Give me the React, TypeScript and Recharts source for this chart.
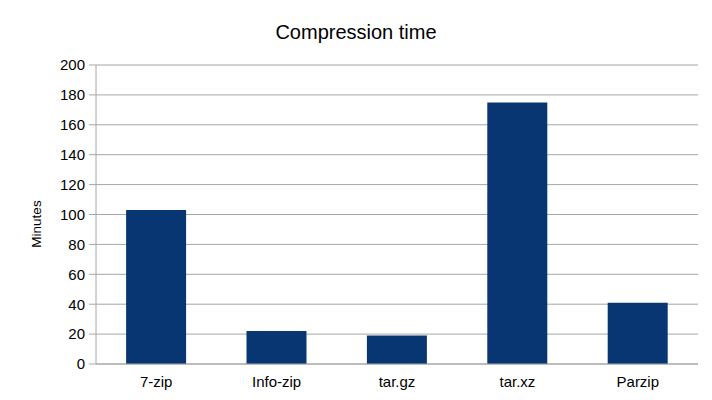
import { BarChart, Bar, XAxis, YAxis, CartesianGrid, ReferenceLine } from 'recharts';

// values
const categories = ['7-zip', 'Info-zip', 'tar.gz', 'tar.xz', 'Parzip'];
const minutes = [103, 22, 19, 175, 41];
const yTicks = [0, 20, 40, 60, 80, 100, 120, 140, 160, 180, 200];
const boundaryTicks = [0, 1, 2, 3, 4, 5];

const data = categories.map((name, i) => ({ name, minutes: minutes[i] }));

const FONT = '"Liberation Sans", Arial, sans-serif';
const GRID = '#a6a6a6';

export default function App() {
  return (
    <div style={{ position: 'absolute', left: 0, top: 0, width: 712, height: 400, background: '#fff' }}>
      <div
        style={{
          position: 'absolute',
          left: 0,
          top: 22,
          width: 712,
          textAlign: 'center',
          fontFamily: FONT,
          fontSize: 20,
          lineHeight: '20px',
          color: '#000',
        }}
      >
        Compression time
      </div>
      <BarChart
        width={712}
        height={400}
        data={data}
        margin={{ top: 65, right: 14, bottom: 0, left: 0 }}
        barCategoryGap="25%"
      >
        <CartesianGrid xAxisId="cat" vertical={false} stroke={GRID} />
        <XAxis
          xAxisId="edges"
          type="number"
          domain={[0, 5]}
          allowDataOverflow
          ticks={boundaryTicks}
          tick={false}
          tickSize={7}
          tickLine={{ stroke: GRID }}
          axisLine={false}
          height={1}
        />
        <XAxis
          xAxisId="cat"
          dataKey="name"
          height={35}
          tickLine={false}
          tickSize={0}
          tickMargin={12}
          axisLine={{ stroke: GRID }}
          tick={{ fill: '#000', fontSize: 15, fontFamily: FONT }}
          interval={0}
        />
        <YAxis
          width={96}
          domain={[0, 200]}
          ticks={yTicks}
          interval={0}
          tickSize={7}
          tickMargin={4}
          axisLine={{ stroke: GRID }}
          tickLine={{ stroke: GRID }}
          tick={{ fill: '#000', fontSize: 15, fontFamily: FONT }}
          label={{
            content: () => (
              <text
                x={36}
                y={224}
                transform="rotate(-90, 36, 224)"
                textAnchor="middle"
                dominantBaseline="central"
                fontSize={13.5}
                fontFamily={FONT}
                fill="#000"
              >
                Minutes
              </text>
            ),
          }}
        />
        <ReferenceLine xAxisId="edges" x={5} stroke={GRID} />
        <Bar xAxisId="cat" dataKey="minutes" fill="#083672" isAnimationActive={false} />
      </BarChart>
    </div>
  );
}
